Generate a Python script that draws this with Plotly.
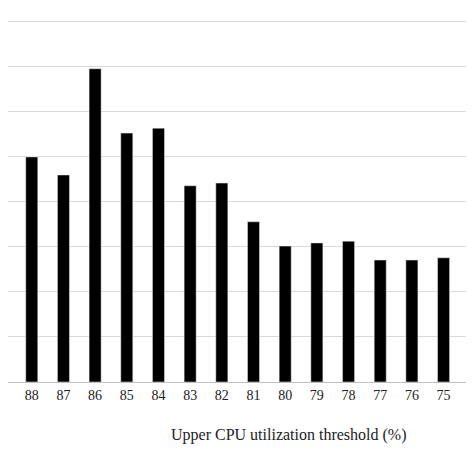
import plotly.graph_objects as go

thresholds = ["88","87","86","85","84","83","82","81","80","79","78","77","76","75","74"]
values = [5.0, 4.6, 6.96, 5.53, 5.64, 4.36, 4.42, 3.56, 3.02, 3.09, 3.13, 2.71, 2.71, 2.76, 2.47]

fig = go.Figure(go.Bar(x=thresholds, y=values, marker_color="black", width=0.38))
fig.update_layout(
    width=474, height=474, margin=dict(l=0, r=0, t=0, b=100),
    plot_bgcolor="white", paper_bgcolor="white", showlegend=False,
    font=dict(family="Liberation Serif", size=14, color="#222"),
)
fig.update_xaxes(type="category", range=[-0.75, 14.15], showline=True, linecolor="#bfbfbf",
                 ticks="", tickfont=dict(size=14))
fig.update_yaxes(range=[0, 8.31], dtick=1, showgrid=True, gridcolor="#d9d9d9",
                 showticklabels=False, zeroline=False)
fig.add_annotation(text="Upper CPU utilization threshold (%)", xref="paper", yref="paper",
                   x=0.595, y=0, yanchor="top", yshift=-42, showarrow=False,
                   font=dict(size=16, family="Liberation Serif"))
fig.write_html("out.html")
